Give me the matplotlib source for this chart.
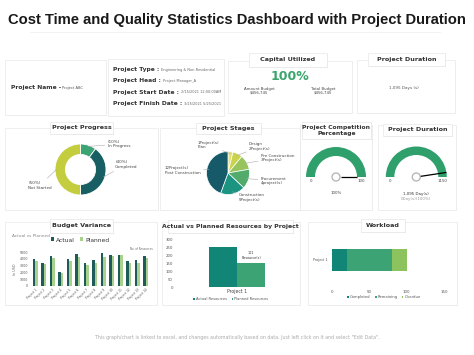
import matplotlib
matplotlib.use('Agg')
import matplotlib.pyplot as plt
from matplotlib.patches import Rectangle, Wedge, Circle
import numpy as np

# ---------------- data ----------------
title = "Cost Time and Quality Statistics Dashboard with Project Duration"
project_name = "Project ABC"
info_keys = ["Project Type :", "Project Head :", "Project Start Date :", "Project Finish Date :"]
info_vals = ["Engineering & Non-Residential", "Project Manager_A", "2/15/2021 12:00:00AM", "3/25/2021 5/25/2021"]
capital_pct = "100%"
amount_budget = "$456,745"
total_budget = "$456,745"
duration_text = "1,095 Days (s)"

progress_labels = ["In Progress", "Completed", "Not Started"]
progress_vals = [10, 40, 50]

stage_labels = ["Plan", "Design", "Pre Construction", "Procurement", "Construction", "Post Construction"]
stage_vals = [1, 2, 3, 4, 5, 12]

completion_value = 100
completion_max = 100
duration_days = 1095
duration_max = 1150

budget_projects = ["Project %d" % i for i in range(1, 15)]
budget_actual = [3950, 3450, 4450, 2000, 3950, 4750, 3450, 3850, 4850, 4550, 4650, 3750, 3800, 4450]
budget_planned = [3700, 3250, 4150, 1900, 3700, 4350, 3100, 3450, 4350, 4500, 4550, 3450, 3450, 4200]
budget_yticks = [0, 1000, 2000, 3000, 4000, 5000]

res_project = ["Project 1"]
res_actual = [256]
res_planned = [155]
res_yticks = [0, 50, 100, 150, 200, 250, 300]

work_project = ["Project 1"]
work_completed = [20]
work_remaining = [60]
work_overdue = [20]
work_xticks = [0, 50, 100, 150]

footer = 'This graph/chart is linked to excel, and changes automatically based on data. Just left click on it and select "Edit Data".'

# ---------------- colours ----------------
DARK = '#175f62'
TEAL = '#128676'
GREEN = '#3ba374'
LGREEN = '#8dc35f'
YGREEN = '#c3cd3d'
GAUGE = '#2fa06b'

# ---------------- figure helpers ----------------
W, H = 474, 355
fig = plt.figure(figsize=(W / 100, H / 100), dpi=100)
fig.patch.set_facecolor('white')


def fx(x):
    return x / W


def fy(y):
    return 1 - y / H


def axes_px(x0, y0, x1, y1):
    a = fig.add_axes([x0 / W, 1 - y1 / H, (x1 - x0) / W, (y1 - y0) / H])
    a.set_facecolor('none')
    return a


def txt(x, y, s, **kw):
    return fig.text(fx(x), fy(y), s, **kw)


def box(x0, y0, x1, y1):
    fig.patches.append(Rectangle((fx(x0 + 0.8), fy(y1 + 0.8)), (x1 - x0) / W, (y1 - y0) / H,
                                 transform=fig.transFigure, fc='#f3f3f3', ec='none', zorder=-2))
    fig.patches.append(Rectangle((fx(x0), fy(y1)), (x1 - x0) / W, (y1 - y0) / H,
                                 transform=fig.transFigure, fc='white', ec='#e9e9e9', lw=0.5, zorder=-1.5))


def tab(x0, y0, x1, y1, label, fs=4.6):
    fig.patches.append(Rectangle((fx(x0 + 0.8), fy(y1 + 0.8)), (x1 - x0) / W, (y1 - y0) / H,
                                 transform=fig.transFigure, fc='#ececec', ec='none', zorder=-1))
    fig.patches.append(Rectangle((fx(x0), fy(y1)), (x1 - x0) / W, (y1 - y0) / H,
                                 transform=fig.transFigure, fc='white', ec='#e2e2e2', lw=0.4, zorder=-0.5))
    txt((x0 + x1) / 2, (y0 + y1) / 2, label, ha='center', va='center', fontsize=fs,
        fontweight='bold', color='#333333', linespacing=1.1)


# ---------------- title ----------------
t = txt(8, 20, title, ha='left', va='center', fontsize=11, fontweight='bold',
        color='#1a1a1a', family=['Liberation Sans', 'DejaVu Sans'])
fig.canvas.draw()
bb = t.get_window_extent()
t.set_fontsize(11 * 458 / bb.width)
fig.lines.append(plt.Line2D([fx(30), fx(440)], [fy(32), fy(32)], transform=fig.transFigure,
                            color='#f0f0f0', lw=0.6))

# ---------------- row 1 ----------------
box(5, 60, 106, 115)
txt(11, 87.5, "Project Name -", ha='left', va='center', fontsize=4.3, fontweight='bold', color='#333333')
txt(62, 87.5, project_name, ha='left', va='center', fontsize=2.6, color='#555555')

box(108, 59, 224, 116)
for i, (k, v) in enumerate(zip(info_keys, info_vals)):
    yy = 69.5 + i * 11.4
    tk = txt(113, yy, k, ha='left', va='center', fontsize=4.3, fontweight='bold', color='#333333')
    fig.canvas.draw()
    e = tk.get_window_extent()
    txt(e.x1 + 2, yy, v, ha='left', va='center', fontsize=2.5, color='#666666')

box(228, 61, 352, 113)
tab(249, 53, 327, 67, "Capital Utilized")
txt(290, 76, capital_pct, ha='center', va='center', fontsize=9, fontweight='bold', color='#3aa56c')
txt(259, 91, "Amount Budget\n" + amount_budget, ha='center', va='center', fontsize=2.8,
    color='#444444', linespacing=1.0)
txt(323, 91, "Total Budget\n" + total_budget, ha='center', va='center', fontsize=2.8,
    color='#444444', linespacing=1.0)

box(357, 60, 455, 113)
tab(368, 53, 445, 66, "Project Duration")
txt(404, 88, duration_text, ha='center', va='center', fontsize=3, color='#555555')

# ---------------- row 2 : project progress donut ----------------
box(5, 128, 158, 210)
tab(50, 122, 113, 134, "Project Progress")
cx, cy, r = 80.5, 169.5, 25.5
ax = axes_px(cx - r, cy - r, cx + r, cy + r)
wedges, _ = ax.pie(progress_vals, colors=[GREEN, DARK, YGREEN], startangle=90, counterclock=False,
                   wedgeprops=dict(width=0.41, edgecolor='white', linewidth=0.6))
ax.set_xlim(-1, 1)
ax.set_ylim(-1, 1)
prog_text_pos = [(1.06, 1.0), (1.36, 0.2), (-2.05, -0.62)]
for w, lab, v, (tx, ty) in zip(wedges, progress_labels, progress_vals, prog_text_pos):
    ang = np.deg2rad((w.theta1 + w.theta2) / 2)
    ax.annotate("(%d%%)\n%s" % (v, lab), xy=(np.cos(ang) * 0.95, np.sin(ang) * 0.95), xytext=(tx, ty),
                ha='left', va='center', fontsize=3, color='#444444', linespacing=1.2,
                annotation_clip=False,
                arrowprops=dict(arrowstyle='-', color='#aaaaaa', lw=0.4, shrinkA=0, shrinkB=0))

# ---------------- row 2 : project stages pie ----------------
box(160, 128, 300, 210)
tab(196, 123, 261, 134, "Project Stages")
cx, cy, r = 228, 173, 21.5
ax = axes_px(cx - r, cy - r, cx + r, cy + r)
stage_colors = ['#e3e07a', '#cbd34c', '#97c45d', '#52ab6b', '#1c9482', '#165a69']
wedges, _ = ax.pie(stage_vals, colors=stage_colors, startangle=90, counterclock=False,
                   wedgeprops=dict(edgecolor='white', linewidth=0.5))
ax.set_xlim(-1, 1)
ax.set_ylim(-1, 1)
stage_text = ["%dProject(s)\n%s" % (stage_vals[0], stage_labels[0]),
              "%s\n%dProject(s)" % (stage_labels[1], stage_vals[1]),
              "%s\n%dProject(s)" % (stage_labels[2], stage_vals[2]),
              "%s\n%dproject(s)" % (stage_labels[3], stage_vals[3]),
              "%s\n%dProject(s)" % (stage_labels[4], stage_vals[4]),
              "%dProject(s)\n%s" % (stage_vals[5], stage_labels[5])]
stage_pos_px = [(198, 145), (249, 146.5), (260.7, 158), (260.7, 181), (238.7, 197.5), (165, 170.5)]
for w, s, (px, py) in zip(wedges, stage_text, stage_pos_px):
    ang = np.deg2rad((w.theta1 + w.theta2) / 2)
    ax.annotate(s, xy=(np.cos(ang) * 0.9, np.sin(ang) * 0.9),
                xytext=((px - cx) / r, (cy - py) / r), ha='left', va='center', fontsize=2.9,
                color='#444444', linespacing=1.15, annotation_clip=False,
                arrowprops=dict(arrowstyle='-', color='#aaaaaa', lw=0.4, shrinkA=0, shrinkB=0))


# ---------------- gauges ----------------
def gauge(cx, cy, r_out, r_in, fill_frac, needle_frac, lo, hi, long_needle):
    pad = 6
    a = axes_px(cx - r_out - pad, cy - r_out - pad, cx + r_out + pad, cy + r_out + pad)
    a.set_xlim(-r_out - pad, r_out + pad)
    a.set_ylim(-r_out - pad, r_out + pad)
    a.axis('off')
    a.add_patch(Wedge((0, 0), r_out, 180 - 180 * fill_frac, 180, width=r_out - r_in, fc=GAUGE, ec='none'))
    if fill_frac < 1:
        a.add_patch(Wedge((0, 0), r_out, 0, 180 - 180 * fill_frac, width=r_out - r_in, fc='#e5e5e5', ec='none'))
    ang = np.deg2rad(180 - 180 * needle_frac)
    tip = r_out if long_needle else r_in
    a.plot([4.5 * np.cos(ang), tip * np.cos(ang)], [4.5 * np.sin(ang), tip * np.sin(ang)],
           color='black', lw=0.9, solid_capstyle='butt')
    a.add_patch(Circle((0, 0), 4, fc='white', ec='#b8b8b8', lw=1.0))
    a.text(-(r_out + r_in) / 2, -4.5, lo, ha='center', va='center', fontsize=2.8, color='#444444')
    a.text((r_out + r_in) / 2, -4.5, hi, ha='center', va='center', fontsize=2.8, color='#444444')


box(300, 125, 372, 210)
tab(302, 122, 371, 139, "Project Competition\nPercentage", fs=4.3)
gauge(336, 177, 30, 21, completion_value / completion_max, completion_value / completion_max,
      "0", str(completion_max), False)
txt(336, 193, "%d%%" % completion_value, ha='center', va='center', fontsize=2.8, color='#444444')

box(378, 125, 456, 210)
tab(383, 124, 452, 136, "Project Duration")
gauge(416.3, 177, 30.5, 22, completion_value / completion_max, duration_days / duration_max,
      "0", str(duration_max), True)
txt(416, 193.5, "1,095 Day(s)", ha='center', va='center', fontsize=2.9, color='#333333')
txt(416, 199, "0Day(s)(100%)", ha='center', va='center', fontsize=2.9, color='#999999')

# ---------------- row 3 : budget variance ----------------
box(5, 222, 157, 305)
tab(50, 219, 113, 233, "Budget Variance")
txt(12, 236, "Actual vs Planned", ha='left', va='center', fontsize=3.1, color='#888888')
ax = axes_px(30, 252.3, 151, 285.7)
xb = np.arange(len(budget_projects))
bw = 0.3
b1 = ax.bar(xb - bw / 2, budget_actual, bw, color='#1e5c5a', label='Actual')
b2 = ax.bar(xb + bw / 2, budget_planned, bw, color='#a9d18e', label='Planned')
ax.set_ylim(0, 5000)
ax.set_xlim(-0.6, len(budget_projects) - 0.4)
ax.set_yticks(budget_yticks)
ax.set_yticklabels([str(v) for v in budget_yticks], fontsize=2.3, color='#555555')
ax.set_xticks(xb)
ax.set_xticklabels(budget_projects, rotation=45, ha='right', rotation_mode='anchor', fontsize=2.2,
                   color='#555555')
ax.tick_params(length=0, pad=1.5)
for s in ax.spines.values():
    s.set_visible(False)
ax.set_ylabel("In USD", fontsize=2.4, color='#666666', labelpad=2)
fig.legend(handles=[b1, b2], labels=['Actual', 'Planned'], loc='center', bbox_to_anchor=(fx(80), fy(240)),
           ncol=2, frameon=False, fontsize=4.3, handlelength=0.6, handleheight=0.6, handletextpad=0.3,
           columnspacing=0.8, borderpad=0, labelcolor='#333333')
txt(153, 249, "No. of Resources", ha='right', va='center', fontsize=2, color='#666666')

# ---------------- row 3 : resources ----------------
box(162, 222, 300, 305)
tab(168, 220, 293, 233, "Actual vs Planned Resources by Project", fs=4.4)
ax = axes_px(177, 239.5, 297, 287.3)
xr = np.arange(len(res_project))
rw = 0.47
r1 = ax.bar(xr - rw / 2, res_actual, rw, color=TEAL, label='Actual Resources')
r2 = ax.bar(xr + rw / 2, res_planned, rw, color=GREEN, label='Planned Resources')
ax.set_xlim(-1, 1)
ax.set_ylim(0, 300)
ax.set_yticks(res_yticks)
ax.set_yticklabels([str(v) for v in res_yticks], fontsize=2.8, color='#555555')
ax.set_xticks(xr)
ax.set_xticklabels(res_project, fontsize=3.3, color='#444444')
ax.tick_params(length=0, pad=1.5)
ax.tick_params(axis='y', pad=3)
for s in ax.spines.values():
    s.set_visible(False)
ax.axhline(0, color='#dddddd', lw=0.4)
diff = res_actual[0] - res_planned[0]
ax.text(xr[0] + rw / 2, res_planned[0] + 45, "%d\nResource(s)" % diff, ha='center', va='center',
        fontsize=2.4, color='#333333', linespacing=1.1)
fig.legend(handles=[r1, r2], labels=['Actual Resources', 'Planned Resources'], loc='center',
           bbox_to_anchor=(fx(231), fy(299.3)), ncol=2, frameon=False, fontsize=2.6, handlelength=0.5,
           handleheight=0.5, handletextpad=0.3, columnspacing=1.2, borderpad=0, labelcolor='#555555')

# ---------------- row 3 : workload ----------------
box(308, 222, 457, 305)
tab(361, 219, 405, 232, "Workload")
ax = axes_px(332, 236, 444, 284)
yw = np.arange(len(work_project))
bh = 0.92
left = np.zeros(len(work_project))
handles = []
for vals, col, lab in [(work_completed, TEAL, 'Completed'), (work_remaining, GREEN, 'Remaining'),
                       (work_overdue, LGREEN, 'Overdue')]:
    h = ax.barh(yw, vals, bh, left=left, color=col, label=lab)
    handles.append(h)
    left = left + np.array(vals)
ax.set_xlim(0, 150)
ax.set_ylim(-1, 1)
ax.set_xticks(work_xticks)
ax.set_xticklabels([str(v) for v in work_xticks], fontsize=2.9, color='#555555')
ax.set_yticks(yw)
ax.set_yticklabels(work_project, fontsize=2.4, color='#555555')
ax.tick_params(length=0, pad=3)
ax.tick_params(axis='x', pad=4)
for s in ax.spines.values():
    s.set_visible(False)
fig.legend(handles=handles, labels=['Completed', 'Remaining', 'Overdue'], loc='center',
           bbox_to_anchor=(fx(384), fy(297.3)), ncol=3, frameon=False, fontsize=2.7, handlelength=0.5,
           handleheight=0.5, handletextpad=0.3, columnspacing=1.0, borderpad=0, labelcolor='#555555')

# ---------------- footer ----------------
txt(237, 337.5, footer, ha='center', va='center', fontsize=3.4, color='#aaaaaa')

fig.savefig('out.png', dpi=100, facecolor='white')
